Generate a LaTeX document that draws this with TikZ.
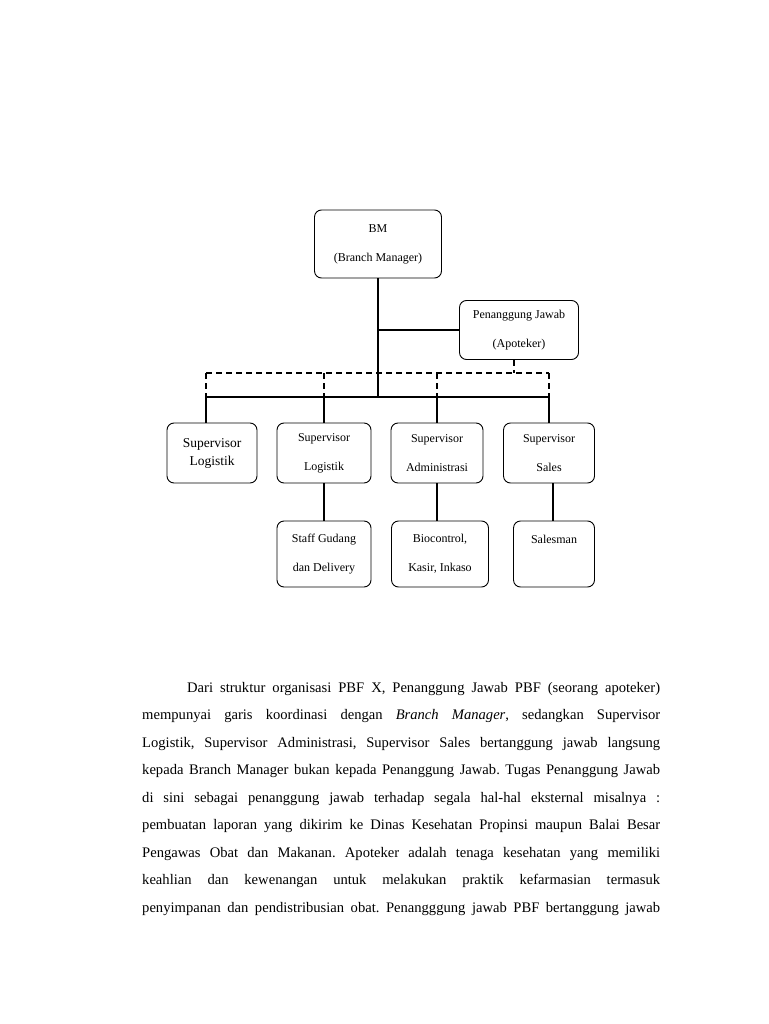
\documentclass[tikz,border=0pt]{standalone}
\usepackage{fontspec}
\setmainfont{Liberation Serif}
\usepackage{tikz}
\tikzstyle{box}=[draw,line width=0.9pt,rounded corners=7pt,inner sep=0pt,align=center,font=\fontsize{12}{29}\selectfont]
\tikzstyle{line}=[line width=1.1pt]
\tikzstyle{coord_line}=[line width=1.1pt,dash pattern=on 6pt off 4pt]

\begin{document}
\begin{tikzpicture}[x=1pt,y=-1pt]  % pixel grid of the page
\useasboundingbox[fill=white] (0,0) rectangle (768,1024);

\node[box,minimum width=127pt,minimum height=68pt] (bm) at (378,244) {BM\\(Branch Manager)};
\node[box,minimum width=119pt,minimum height=59pt] (pj) at (519,330) {Penanggung Jawab\\(Apoteker)};

\node[box,minimum width=90pt,minimum height=60pt,font=\fontsize{13.5}{18}\selectfont] (spvlog1) at (212,453) {Supervisor\\Logistik};
\node[box,minimum width=94pt,minimum height=60pt] (spvlog2) at (324,453) {Supervisor\\Logistik};
\node[box,minimum width=92pt,minimum height=60pt] (spvadm) at (437,453) {Supervisor\\Administrasi};
\node[box,minimum width=91pt,minimum height=60pt] (spvsales) at (549,453) {Supervisor\\Sales};

\node[box,minimum width=94pt,minimum height=66pt] (staff) at (324,554) {Staff Gudang\\dan Delivery};
\node[box,minimum width=97pt,minimum height=66pt] (bio) at (440,554) {Biocontrol,\\Kasir, Inkaso};
\node[box,minimum width=81pt,minimum height=66pt] (salesman) at (554,554) {Salesman\\\mbox{}};

\coordinate (bus) at (378,397);
\coordinate (dbus) at (378,373);

% garis komando
\draw[line] (bm.south) -- (bus);
\draw[line] (bm.south |- pj.west) -- (pj.west);
\draw[line] ([xshift=-6pt]spvlog1.north |- bus) -- (spvsales.north |- bus);
\draw[line] ([xshift=-6pt]spvlog1.north |- bus) -- ([xshift=-6pt]spvlog1.north);
\draw[line] (spvlog2.north |- bus) -- (spvlog2.north);
\draw[line] (spvadm.north |- bus) -- (spvadm.north);
\draw[line] (spvsales.north |- bus) -- (spvsales.north);
\draw[line] (spvlog2.south) -- (staff.north);
\draw[line] (spvadm.south) -- (spvadm.south |- bio.north);
\draw[line] ([xshift=4pt]spvsales.south) -- ([xshift=4pt]spvsales.south |- salesman.north);

% garis koordinasi
\draw[coord_line] ([xshift=-5pt]pj.south) -- ([xshift=-5pt]pj.south |- dbus);
\draw[coord_line] ([xshift=-6pt]spvlog1.north |- dbus) -- (spvsales.north |- dbus);
\draw[coord_line] ([xshift=-6pt]spvlog1.north |- dbus) -- ([xshift=-6pt]spvlog1.north |- bus);
\draw[coord_line] (spvlog2.north |- dbus) -- (spvlog2.north |- bus);
\draw[coord_line] (spvadm.north |- dbus) -- (spvadm.north |- bus);
\draw[coord_line] (spvsales.north |- dbus) -- (spvsales.north |- bus);

\node[anchor=north west,inner sep=0pt,text width=518pt,align=justify,font=\fontsize{14.6}{27.5}\selectfont] (teks) at (142,682) {%
\frenchspacing\parindent=45pt\parfillskip=0pt\indent
Dari struktur organisasi PBF X, Penanggung Jawab PBF (seorang apoteker)\linebreak
mempunyai garis koordinasi dengan \textit{Branch Manager}, sedangkan Supervisor\linebreak
Logistik, Supervisor Administrasi, Supervisor Sales bertanggung jawab langsung\linebreak
kepada Branch Manager bukan kepada Penanggung Jawab. Tugas Penanggung Jawab\linebreak
di sini sebagai penanggung jawab terhadap segala hal-hal eksternal misalnya :\linebreak
pembuatan laporan yang dikirim ke Dinas Kesehatan Propinsi maupun Balai Besar\linebreak
Pengawas Obat dan Makanan. Apoteker adalah tenaga kesehatan yang memiliki\linebreak
keahlian dan kewenangan untuk melakukan praktik kefarmasian termasuk\linebreak
penyimpanan dan pendistribusian obat. Penangggung jawab PBF bertanggung jawab\par};
\end{tikzpicture}
\end{document}
